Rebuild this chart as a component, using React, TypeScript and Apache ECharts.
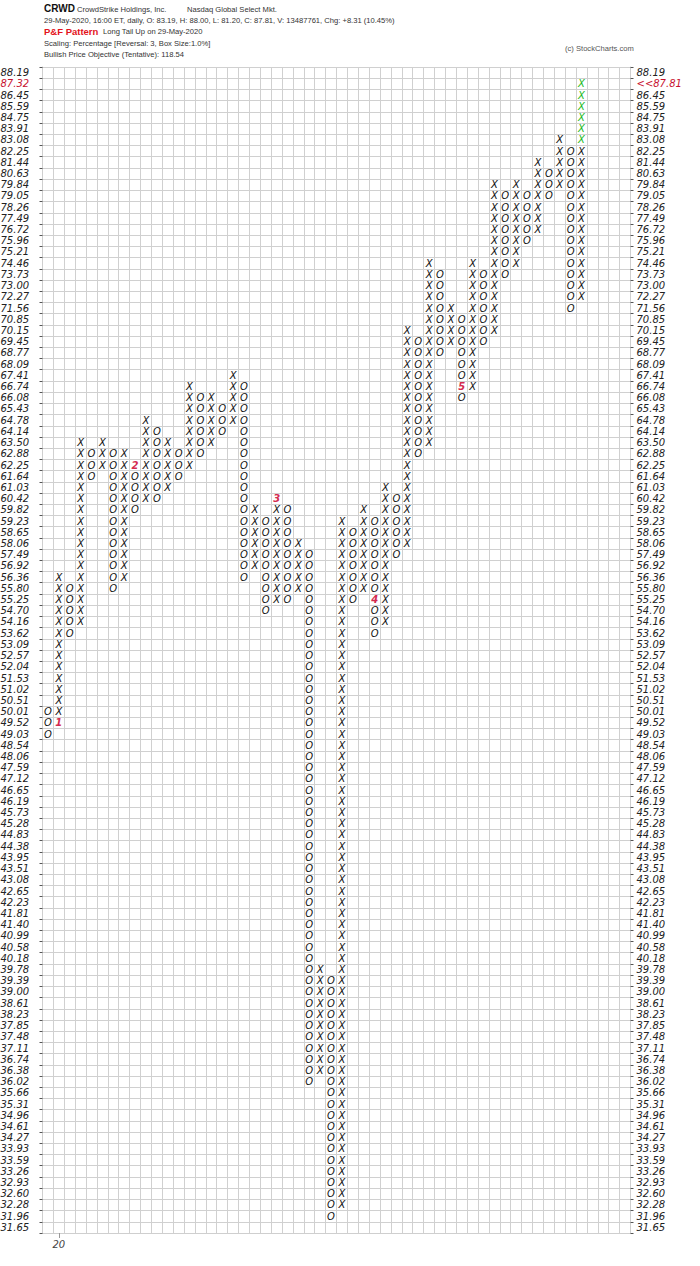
import React, { useEffect, useRef } from 'react';
import * as echarts from 'echarts';

// Box levels (1% box size), top to bottom
const priceLevels = [
  88.19, 87.32, 86.45, 85.59, 84.75, 83.91, 83.08, 82.25, 81.44, 80.63,
  79.84, 79.05, 78.26, 77.49, 76.72, 75.96, 75.21, 74.46, 73.73, 73.0,
  72.27, 71.56, 70.85, 70.15, 69.45, 68.77, 68.09, 67.41, 66.74, 66.08,
  65.43, 64.78, 64.14, 63.5, 62.88, 62.25, 61.64, 61.03, 60.42, 59.82,
  59.23, 58.65, 58.06, 57.49, 56.92, 56.36, 55.8, 55.25, 54.7, 54.16,
  53.62, 53.09, 52.57, 52.04, 51.53, 51.02, 50.51, 50.01, 49.52, 49.03,
  48.54, 48.06, 47.59, 47.12, 46.65, 46.19, 45.73, 45.28, 44.83, 44.38,
  43.95, 43.51, 43.08, 42.65, 42.23, 41.81, 41.4, 40.99, 40.58, 40.18,
  39.78, 39.39, 39.0, 38.61, 38.23, 37.85, 37.48, 37.11, 36.74, 36.38,
  36.02, 35.66, 35.31, 34.96, 34.61, 34.27, 33.93, 33.59, 33.26, 32.93,
  32.6, 32.28, 31.96, 31.65,
];

// P&F columns
const columnKinds = [
  'O', 'X', 'O', 'X', 'O', 'X', 'O', 'X', 'O', 'X',
  'O', 'X', 'O', 'X', 'O', 'X', 'O', 'X', 'O', 'X',
  'O', 'X', 'O', 'X', 'O', 'X', 'O', 'X', 'O', 'X',
  'O', 'X', 'O', 'X', 'O', 'X', 'O', 'X', 'O', 'X',
  'O', 'X', 'O', 'X', 'O', 'X', 'O', 'X', 'O', 'X',
];
const columnTops = [
  50.01, 56.36, 55.8, 63.5, 62.88, 63.5, 62.88, 62.88, 62.25, 64.78,
  64.14, 63.5, 62.88, 66.74, 66.08, 66.08, 65.43, 67.41, 66.74, 59.82,
  59.23, 60.42, 59.82, 58.06, 57.49, 39.78, 39.39, 59.23, 58.65, 59.82,
  59.23, 61.03, 60.42, 70.15, 69.45, 74.46, 73.73, 71.56, 70.85, 74.46,
  73.73, 79.84, 79.05, 79.84, 79.05, 81.44, 80.63, 83.08, 82.25, 87.32,
];
const columnBottoms = [
  49.03, 49.52, 53.62, 54.16, 61.64, 62.25, 55.8, 56.36, 59.82, 60.42,
  60.42, 61.03, 61.64, 62.25, 62.88, 63.5, 64.14, 64.78, 56.36, 56.92,
  54.7, 55.25, 55.25, 55.8, 36.02, 36.38, 31.96, 32.28, 55.25, 55.8,
  53.62, 54.16, 57.49, 58.06, 62.88, 63.5, 68.77, 69.45, 66.08, 66.74,
  69.45, 70.15, 73.73, 74.46, 75.96, 76.72, 79.05, 79.84, 71.56, 72.27,
];

// Month markers
const monthLabels = ['1', '2', '3', '4', '5'];
const monthCols = [1, 8, 21, 30, 38];
const monthPrices = [49.52, 62.25, 60.42, 55.25, 66.74];

// Latest (green) boxes
const latestColumn = 49;
const latestTop = 87.32;
const latestBottom = 83.08;

// Last price marker
const lastPriceLevel = 87.32;
const lastPriceLabel = '<<87.81';

// Year marker
const yearLabel = '20';
const yearCol = 1;

const columnCount = 54;

function rowOf(p: number) {
  return priceLevels.findIndex((v) => Math.abs(v - p) < 0.001);
}

export default function App() {
  const ref = useRef<HTMLDivElement>(null);
  useEffect(() => {
    document.body.style.margin = '0';
    const chart = echarts.init(ref.current as HTMLDivElement, null, { renderer: 'svg' });

    const boxes: { col: number; row: number; text: string; color: string; month: boolean }[] = [];
    columnKinds.forEach((k, c) => {
      const r0 = rowOf(columnTops[c]);
      const r1 = rowOf(columnBottoms[c]);
      for (let r = r0; r <= r1; r++) {
        let text = k;
        let color = '#111';
        const mi = monthCols.findIndex((mc, i) => mc === c && rowOf(monthPrices[i]) === r);
        if (mi >= 0) {
          text = monthLabels[mi];
          color = '#d42a4f';
        } else if (c === latestColumn && r >= rowOf(latestTop) && r <= rowOf(latestBottom)) {
          color = '#22b922';
        }
        boxes.push({ col: c, row: r, text, color, month: mi >= 0 });
      }
    });

    const labelStyle = {
      interval: 0,
      fontSize: 10,
      fontStyle: 'italic',
      fontFamily: 'DejaVu Sans',
      color: '#222',
    };
    const redLabel = {
      color: '#c8102e',
      align: 'left',
      fontSize: 10,
      fontStyle: 'italic',
      fontFamily: 'DejaVu Sans',
    };
    const leftLabels = priceLevels.map((v) =>
      v === lastPriceLevel ? { value: v.toFixed(2), textStyle: redLabel } : v.toFixed(2)
    );
    const rightLabels = priceLevels.map((v) =>
      v === lastPriceLevel ? { value: lastPriceLabel, textStyle: redLabel } : v.toFixed(2)
    );
    const hdrFont = '"Liberation Sans", Arial, sans-serif';

    const txt = (x: number, y: number, text: string, font: string, fill: string) => ({
      type: 'text',
      x,
      y,
      silent: true,
      style: { text, font, fill, textVerticalAlign: 'middle', verticalAlign: 'middle' },
    });

    chart.setOption({
      animation: false,
      backgroundColor: '#fff',
      grid: {
        left: 42.5,
        top: 67,
        width: 588,
        height: 1166,
        containLabel: false,
        outerBoundsMode: 'none',
      },
      xAxis: {
        type: 'category',
        data: Array.from({ length: columnCount }, (_, i) => String(i)),
        boundaryGap: true,
        axisLine: { show: true, lineStyle: { color: '#cfcfcf' } },
        axisTick: {
          show: true,
          alignWithLabel: true,
          interval: (i: number) => i === yearCol,
          length: 5,
          lineStyle: { color: '#999' },
        },
        axisLabel: {
          interval: 0,
          formatter: (_v: string, i: number) => (i === yearCol ? yearLabel : ''),
          fontSize: 10,
          fontStyle: 'italic',
          fontFamily: 'DejaVu Sans',
          color: '#444',
          margin: 6,
        },
        splitLine: { show: true, interval: 0, lineStyle: { color: '#d0d0d0', width: 1 } },
      },
      yAxis: [
        {
          type: 'category',
          inverse: true,
          data: leftLabels,
          boundaryGap: true,
          axisLine: { show: true, lineStyle: { color: '#cfcfcf' } },
          axisTick: { show: true, interval: 0, length: 3, lineStyle: { color: '#555' } },
          axisLabel: { ...labelStyle, align: 'left', margin: 42 },
          splitLine: { show: true, interval: 0, lineStyle: { color: '#d0d0d0', width: 1 } },
        },
        {
          type: 'category',
          position: 'right',
          inverse: true,
          data: rightLabels,
          boundaryGap: true,
          axisLine: { show: true, lineStyle: { color: '#cfcfcf' } },
          axisTick: { show: true, interval: 0, length: 3, lineStyle: { color: '#555' } },
          axisLabel: { ...labelStyle, align: 'left', margin: 6 },
          splitLine: { show: false },
        },
      ],
      series: [
        {
          type: 'custom',
          coordinateSystem: 'cartesian2d',
          xAxisIndex: 0,
          yAxisIndex: 0,
          data: boxes.map((b) => [b.col, b.row]),
          encode: { x: 0, y: 1 },
          renderItem: (params: any, api: any) => {
            const b = boxes[params.dataIndex];
            const p = api.coord([api.value(0), api.value(1)]);
            return {
              type: 'text',
              x: p[0],
              y: p[1],
              silent: true,
              style: {
                text: b.text,
                fill: b.color,
                font: b.month ? 'italic bold 10px "DejaVu Sans"' : 'italic 10px "DejaVu Sans"',
                textAlign: 'center',
                textVerticalAlign: 'middle',
                align: 'center',
                verticalAlign: 'middle',
              },
            };
          },
        },
      ],
      graphic: [
        txt(44, 8, 'CRWD', 'bold 10px "Liberation Sans", Arial, sans-serif', '#111'),
        txt(77, 9, 'CrowdStrike Holdings, Inc.', '7.6px ' + hdrFont, '#333'),
        txt(187, 9, 'Nasdaq Global Select Mkt.', '7.6px ' + hdrFont, '#333'),
        txt(
          44,
          20,
          '29-May-2020, 16:00 ET, daily, O: 83.19, H: 88.00, L: 81.20, C: 87.81, V: 13487761, Chg: +8.31 (10.45%)',
          '7.6px ' + hdrFont,
          '#333'
        ),
        txt(44, 31, 'P&F Pattern', 'bold 9.5px "Liberation Sans", Arial, sans-serif', '#e3121b'),
        txt(103, 31, 'Long Tail Up on 29-May-2020', '7.6px ' + hdrFont, '#333'),
        txt(44, 43, 'Scaling: Percentage [Reversal: 3, Box Size:1.0%]', '7.6px ' + hdrFont, '#333'),
        txt(44, 54, 'Bullish Price Objective (Tentative): 118.54', '7.6px ' + hdrFont, '#333'),
        txt(565, 48, '(c) StockCharts.com', '7.6px ' + hdrFont, '#555'),
      ],
    });
    return () => chart.dispose();
  }, []);
  return <div ref={ref} style={{ width: 700, height: 1266 }} />;
}
